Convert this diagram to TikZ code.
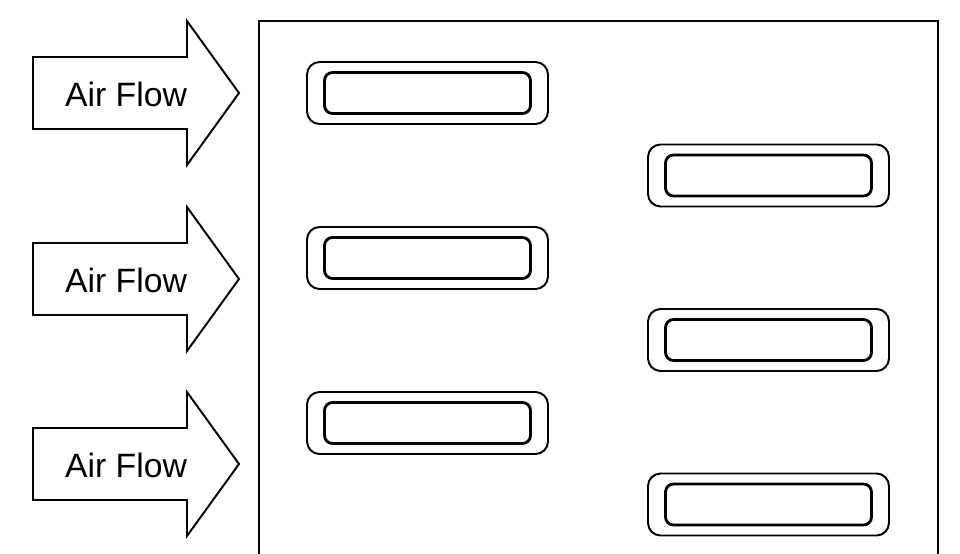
\documentclass[tikz,border=0pt]{standalone}
\usepackage{fontspec}
\setmainfont{Liberation Sans}
\usepackage{tikz}
\usetikzlibrary{positioning}

\tikzset{
	flow/.style={line width=1.1pt, line join=miter},
	cell/.style={draw, line width=1.1pt, rounded corners=2.5mm,
		minimum width=4.82cm, minimum height=1.24cm, inner sep=0pt},
	core/.style={draw, line width=1.6pt, rounded corners=1.6mm,
		minimum width=4.12cm, minimum height=0.82cm, inner sep=0pt},
}

\begin{document}
\begin{tikzpicture}[x=0.02cm,y=-0.02cm]
	\useasboundingbox (0,0) rectangle (960,554);
	\clip (0,0) rectangle (960,554);
	% Draw the housing
	\draw [line width=1.6pt] (259,21) coordinate (box_nw) rectangle (938,580) coordinate (box_se);
	% Draw the three air flow arrows
	\foreach \y/\n in {93/a,279/b,464/c}{
		\draw [flow] (33,\y-36) -- (187,\y-36) -- (187,\y-72) -- (239,\y)
		-- (187,\y+72) -- (187,\y+36) -- (33,\y+36) -- cycle;
		\node (flow_\n) at (126,\y+1) {\fontsize{19.2}{23}\selectfont Air Flow};
	}
	% Left row of cells
	\foreach \y/\n in {93/1,258/2,423/3}{
		\node [cell] (left_\n) at (427.5,\y) {};
		\node [core] (left_core_\n) at (left_\n) {};
	}
	% Right row of cells
	\foreach \y/\n in {175.5/1,340/2,504.5/3}{
		\node [cell] (right_\n) at (768.5,\y) {};
		\node [core] (right_core_\n) at (right_\n) {};
	}
\end{tikzpicture}
\end{document}
